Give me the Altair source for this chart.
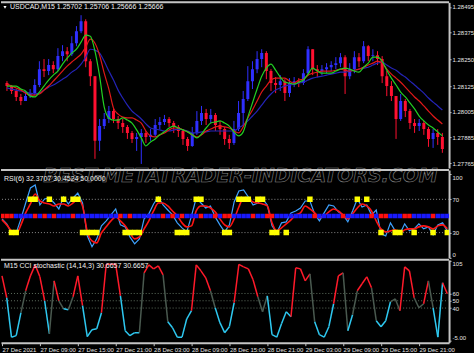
import altair as alt
import pandas as pd

# ---------------- data ----------------
close = [1.28125, 1.28102, 1.28074, 1.28055, 1.28078, 1.28092, 1.28130, 1.28204, 1.28195, 1.28223,
         1.28204, 1.28265, 1.28288, 1.28274, 1.28325, 1.28381, 1.28428, 1.28241, 1.28171, 1.27869,
         1.27938, 1.27971, 1.28008, 1.27971, 1.27952, 1.27934, 1.27906, 1.27878, 1.27887, 1.27906,
         1.27887, 1.27897, 1.27943, 1.27957, 1.27971, 1.27952, 1.27934, 1.27915, 1.27878, 1.27845,
         1.27906, 1.27962, 1.27999, 1.27971, 1.27990, 1.27943, 1.27924, 1.27878, 1.27859, 1.27924,
         1.27999, 1.28064, 1.28148, 1.28204, 1.28251, 1.28279, 1.28195, 1.28139, 1.28130, 1.28148,
         1.28092, 1.28139, 1.28148, 1.28139, 1.28185, 1.28297, 1.28204, 1.28195, 1.28204, 1.28213,
         1.28223, 1.28232, 1.28260, 1.28171, 1.28204, 1.28260, 1.28241, 1.28311, 1.28265, 1.28269,
         1.28251, 1.28171, 1.28125, 1.28078, 1.27971, 1.28055, 1.28008, 1.27952, 1.27938, 1.27952,
         1.27924, 1.27878, 1.27906, 1.27887, 1.27831]
high = [1.28148, 1.28130, 1.28111, 1.28088, 1.28102, 1.28111, 1.28157, 1.28241, 1.28251, 1.28251,
        1.28241, 1.28302, 1.28316, 1.28307, 1.28358, 1.28405, 1.28456, 1.28437, 1.28251, 1.28171,
        1.27971, 1.27999, 1.28032, 1.28022, 1.27985, 1.27971, 1.27943, 1.27915, 1.27906, 1.27924,
        1.27915, 1.27924, 1.27971, 1.27980, 1.27990, 1.27980, 1.27962, 1.27943, 1.27924, 1.27887,
        1.27934, 1.28008, 1.28032, 1.28018, 1.28018, 1.27999, 1.27962, 1.27934, 1.27897, 1.27962,
        1.28055, 1.28102, 1.28218, 1.28241, 1.28288, 1.28297, 1.28288, 1.28204, 1.28167, 1.28176,
        1.28157, 1.28162, 1.28167, 1.28162, 1.28204, 1.28311, 1.28297, 1.28223, 1.28223, 1.28232,
        1.28241, 1.28260, 1.28279, 1.28269, 1.28232, 1.28288, 1.28279, 1.28335, 1.28316, 1.28297,
        1.28288, 1.28265, 1.28195, 1.28148, 1.28078, 1.28088, 1.28064, 1.28018, 1.27971, 1.27971,
        1.27962, 1.27934, 1.27924, 1.27924, 1.27906]
low = [1.28102, 1.28088, 1.28055, 1.28036, 1.28055, 1.28069, 1.28083, 1.28120, 1.28167, 1.28176,
       1.28185, 1.28195, 1.28241, 1.28241, 1.28265, 1.28311, 1.28372, 1.28213, 1.28125, 1.27785,
       1.27822, 1.27924, 1.27952, 1.27952, 1.27924, 1.27906, 1.27878, 1.27859, 1.27822, 1.27761,
       1.27859, 1.27869, 1.27887, 1.27924, 1.27943, 1.27934, 1.27906, 1.27887, 1.27850, 1.27822,
       1.27841, 1.27897, 1.27943, 1.27943, 1.27952, 1.27915, 1.27897, 1.27850, 1.27831, 1.27850,
       1.27915, 1.27938, 1.28055, 1.28111, 1.28185, 1.28213, 1.28157, 1.28102, 1.28092, 1.28102,
       1.28055, 1.28074, 1.28120, 1.28120, 1.28130, 1.28176, 1.28176, 1.28167, 1.28176, 1.28185,
       1.28195, 1.28204, 1.28213, 1.28088, 1.28157, 1.28185, 1.28213, 1.28232, 1.28241, 1.28241,
       1.28223, 1.28139, 1.28078, 1.28055, 1.27878, 1.27962, 1.27980, 1.27924, 1.27906, 1.27915,
       1.27897, 1.27841, 1.27836, 1.27850, 1.27813]
open_first = 1.28139

ma_fast = [1.28125, 1.28125, 1.28125, 1.28111, 1.28102, 1.28078, 1.28074, 1.28097, 1.28125, 1.28153,
           1.28176, 1.28195, 1.28227, 1.28255, 1.28279, 1.28297, 1.28330, 1.28363, 1.28358, 1.28288,
           1.28171, 1.28027, 1.27976, 1.27966, 1.27966, 1.27976, 1.27966, 1.27952, 1.27920, 1.27883,
           1.27845, 1.27864, 1.27878, 1.27897, 1.27911, 1.27929, 1.27938, 1.27929, 1.27920, 1.27911,
           1.27897, 1.27883, 1.27901, 1.27929, 1.27952, 1.27957, 1.27962, 1.27952, 1.27938, 1.27911,
           1.27892, 1.27911, 1.27980, 1.28046, 1.28111, 1.28171, 1.28209, 1.28227, 1.28199, 1.28167,
           1.28143, 1.28139, 1.28134, 1.28143, 1.28153, 1.28181, 1.28209, 1.28195, 1.28185, 1.28185,
           1.28185, 1.28195, 1.28204, 1.28209, 1.28204, 1.28195, 1.28190, 1.28213, 1.28232, 1.28260,
           1.28260, 1.28241, 1.28199, 1.28162, 1.28130, 1.28097, 1.28074, 1.28046, 1.28018, 1.27985,
           1.27962, 1.27943, 1.27929, 1.27911, 1.27892]
ma_mid = [1.28134, 1.28125, 1.28116, 1.28106, 1.28092, 1.28083, 1.28083, 1.28088, 1.28106, 1.28125,
          1.28148, 1.28171, 1.28195, 1.28218, 1.28237, 1.28255, 1.28274, 1.28307, 1.28344, 1.28325,
          1.28269, 1.28185, 1.28111, 1.28022, 1.27994, 1.27980, 1.27976, 1.27976, 1.27966, 1.27952,
          1.27915, 1.27892, 1.27887, 1.27897, 1.27906, 1.27920, 1.27929, 1.27929, 1.27920, 1.27911,
          1.27897, 1.27887, 1.27897, 1.27915, 1.27924, 1.27934, 1.27938, 1.27934, 1.27929, 1.27915,
          1.27906, 1.27934, 1.27976, 1.28013, 1.28055, 1.28097, 1.28125, 1.28153, 1.28162, 1.28162,
          1.28162, 1.28148, 1.28139, 1.28153, 1.28157, 1.28176, 1.28185, 1.28190, 1.28195, 1.28195,
          1.28195, 1.28199, 1.28204, 1.28199, 1.28195, 1.28199, 1.28204, 1.28213, 1.28223, 1.28232,
          1.28241, 1.28232, 1.28204, 1.28181, 1.28162, 1.28143, 1.28120, 1.28097, 1.28074, 1.28055,
          1.28032, 1.28008, 1.27985, 1.27966, 1.27948]
ma_slow = [1.28116, 1.28111, 1.28106, 1.28102, 1.28097, 1.28092, 1.28088, 1.28092, 1.28106, 1.28120,
           1.28130, 1.28143, 1.28157, 1.28171, 1.28190, 1.28204, 1.28227, 1.28260, 1.28297, 1.28293,
           1.28279, 1.28241, 1.28195, 1.28153, 1.28106, 1.28069, 1.28036, 1.28008, 1.27990, 1.27971,
           1.27948, 1.27929, 1.27924, 1.27920, 1.27915, 1.27915, 1.27920, 1.27924, 1.27920, 1.27915,
           1.27906, 1.27906, 1.27911, 1.27911, 1.27915, 1.27915, 1.27915, 1.27915, 1.27915, 1.27915,
           1.27929, 1.27943, 1.27962, 1.27985, 1.28008, 1.28036, 1.28064, 1.28088, 1.28106, 1.28116,
           1.28125, 1.28130, 1.28134, 1.28139, 1.28143, 1.28153, 1.28162, 1.28167, 1.28171, 1.28176,
           1.28181, 1.28185, 1.28190, 1.28190, 1.28195, 1.28199, 1.28204, 1.28209, 1.28213, 1.28223,
           1.28232, 1.28237, 1.28223, 1.28209, 1.28199, 1.28181, 1.28167, 1.28148, 1.28130, 1.28111,
           1.28092, 1.28069, 1.28050, 1.28032, 1.28013]

rsi_fast = [46.5, 40.5, 29.7, 29.7, 46.5, 65.6, 83.6, 87.2, 63.2, 70.4,
            71.6, 65.6, 58.4, 72.8, 64.4, 71.6, 77.6, 65.6, 26.1, 13.0,
            22.5, 38.1, 44.1, 51.3, 58.4, 39.3, 36.9, 24.9, 16.5, 22.5,
            46.5, 52.5, 64.4, 72.8, 63.2, 57.2, 51.3, 41.7, 35.7, 30.9,
            50.1, 71.6, 65.6, 59.6, 62.0, 48.9, 39.3, 30.9, 39.3, 66.8,
            80.0, 81.2, 72.8, 63.2, 65.6, 70.4, 63.2, 38.1, 29.7, 41.7,
            42.9, 53.7, 56.0, 59.6, 68.0, 68.0, 52.5, 44.1, 53.7, 63.2,
            62.0, 54.9, 51.3, 42.9, 56.0, 70.4, 60.8, 63.2, 51.3, 57.2,
            28.5, 26.1, 41.7, 32.1, 28.5, 40.5, 32.1, 34.5, 40.5, 34.5,
            36.9, 27.3, 39.3, 41.7, 32.1]
rsi_slow = [45.3, 39.3, 32.1, 28.5, 39.3, 53.7, 64.4, 76.4, 68.0, 65.6,
            64.4, 62.0, 64.4, 64.4, 62.0, 65.6, 70.4, 62.0, 30.9, 20.1,
            17.7, 29.7, 36.9, 44.1, 48.9, 44.1, 38.1, 29.7, 22.5, 24.9,
            34.5, 44.1, 56.0, 65.6, 65.6, 62.0, 56.0, 50.1, 41.7, 36.9,
            38.1, 56.0, 62.0, 62.0, 59.6, 54.9, 46.5, 39.3, 36.9, 46.5,
            60.8, 71.6, 70.4, 66.8, 65.6, 64.4, 62.0, 41.7, 32.1, 35.7,
            40.5, 45.3, 51.3, 53.7, 62.0, 58.4, 53.7, 47.7, 50.1, 54.9,
            58.4, 56.0, 51.3, 46.5, 52.5, 59.6, 64.4, 62.0, 56.0, 44.1,
            34.5, 30.9, 32.1, 33.3, 29.7, 33.3, 34.5, 34.5, 36.9, 38.1,
            36.9, 34.5, 38.1, 39.3, 34.5]
# colour of the dotted signal band drawn at the RSI 50 level (R = red, B = blue)
rsi_band = ("RRRBBBBRBR" "BRBBBRBBBB" "BBBBBRBRBB" "BBBBRBRBRB" "BBRBBRBRRB"
            "BBBRBBRRBB" "BBBBBBRBBB" "BBRBBBBBRB" "RRBBBRRBBB" "BRBBB")
rsi_mid_level = 50
rsi_over_bought_candles = [6, 7, 10, 13, 15, 16, 33, 41, 42, 50, 51, 52, 54, 55, 65, 75, 77]
rsi_over_sold_candles = [2, 3, 17, 18, 19, 20, 26, 27, 28, 29, 37, 38, 39, 47, 48, 57, 58, 60,
                         80, 83, 84, 87, 91, 94]
cci_stoch = [84.2, 54.1, 0.0, 2.1, 33.6, 63.7, 84.2, 99.3, 82.9, 50.0,
             4.8, 77.4, 50.0, 39.0, 37.7, 55.5, 84.2, 43.2, 0.7, 10.3,
             11.6, 33.6, 100.0, 100.0, 100.0, 56.8, 8.9, 2.1, 6.2, 6.2,
             88.4, 99.3, 93.8, 97.9, 85.6, 21.2, 13.0, 0.0, 0.0, 25.3,
             36.3, 99.3, 91.1, 81.5, 63.7, 40.4, 19.9, 6.2, 14.4, 47.3,
             100.0, 96.6, 93.8, 78.8, 55.5, 34.9, 56.8, 3.4, 0.0, 18.5,
             34.9, 28.1, 95.2, 93.8, 77.4, 87.0, 21.2, 3.4, 0.0, 14.4,
             45.9, 84.2, 88.4, 8.9, 30.8, 63.7, 73.3, 82.9, 67.8, 22.6,
             14.4, 22.6, 48.6, 52.7, 36.3, 96.6, 91.1, 54.1, 40.4, 45.9,
             77.4, 40.4, 0.0, 74.7, 59.6]

price_ticks = [1.27765, 1.27885, 1.28005, 1.28125, 1.28250, 1.28375, 1.28495]
rsi_ticks = [100, 70, 30, 0]
rsi_levels = [70, 30]
cci_ticks = [105, 60, 50, 40, -5]
cci_levels = [60, 50, 40]
time_tick_bars = [0, 24, 48, 72, 96, 120, 144, 168, 192, 216, 240, 264]
time_labels = ["27 Dec 2021", "27 Dec 09:00", "27 Dec 15:00", "27 Dec 21:00",
               "28 Dec 03:00", "28 Dec 09:00", "28 Dec 15:00", "28 Dec 21:00",
               "29 Dec 03:00", "29 Dec 09:00", "29 Dec 15:00", "29 Dec 21:00"]
title_main = "USDCAD,M15  1.25702 1.25706 1.25666 1.25666"
title_rsi = "RSI(6) 32.3707 30.4524 50.0000"
title_cci = "M15 CCI stochastic (14,14,3) 30.6657 30.6657"
watermark = "BEST-METATRADER-INDICATORS.COM"

# ---------------- tables ----------------
BARS_PER_CANDLE = 3  # one drawn candle per 3 M15 bars
n = len(close)
bar = [BARS_PER_CANDLE * i for i in range(n)]
opens = [open_first] + close[:-1]
df = pd.DataFrame({
    "bar": bar, "o": opens, "h": high, "l": low, "c": close,
    "ma_fast": ma_fast, "ma_mid": ma_mid, "ma_slow": ma_slow,
    "rsi_fast": rsi_fast, "rsi_slow": rsi_slow,
})
df["dir"] = ["up" if c >= o else "down" for o, c in zip(opens, close)]

band_df = pd.DataFrame({"bar": bar, "col": list(rsi_band), "lvl": [rsi_mid_level] * n})
yellow_df = pd.DataFrame(
    [{"bar": bar[i], "lvl": 70} for i in rsi_over_bought_candles]
    + [{"bar": bar[i], "lvl": 30} for i in rsi_over_sold_candles])

seg = []
for i in range(n - 1):
    a, b = cci_stoch[i], cci_stoch[i + 1]
    m = (a + b) / 2
    zone = "hi" if m > 60 else ("lo" if m < 40 else "mid")
    seg.append({"bar": bar[i], "bar2": bar[i + 1], "v": a, "v2": b, "zone": zone})
seg_df = pd.DataFrame(seg)
one = pd.DataFrame({"k": [0]})

# ---------------- styling ----------------
FONT = "Liberation Sans"
SEP = "#c4c4c4"
LBL = "#e4e4e4"
W = 449

xscale = alt.Scale(domain=[-0.63, 283.1], nice=False, zero=False)
x_hidden = alt.X("bar:Q", scale=xscale, axis=None)

lbl_expr = " : ".join(f"datum.value == {b} ? '{l}'" for b, l in zip(time_tick_bars, time_labels)) + " : ''"
x_axis = alt.Axis(values=time_tick_bars, labelExpr=lbl_expr, labelAlign="left", labelFont=FONT,
                  labelFontSize=6, labelColor=LBL, labelPadding=1, labelFlush=False,
                  labelOverlap=False, tickSize=3, tickColor=SEP, domainColor=SEP, domainWidth=2,
                  grid=False, title=None)
x_shown = alt.X("bar:Q", scale=xscale, axis=x_axis)

edge_baseline = {"condition": [{"test": "datum.value >= 100", "value": "top"},
                               {"test": "datum.value <= 0", "value": "bottom"}],
                 "value": "middle"}


def right_axis(values, expr, edges=False):
    kw = dict(orient="right", values=values, labelExpr=expr, title=None, grid=False,
              labelFont=FONT, labelFontSize=6, labelColor=LBL, labelPadding=1,
              tickSize=2, tickColor=SEP, domainColor=SEP, domainWidth=2, labelFlush=False)
    if edges:
        kw["labelBaseline"] = edge_baseline
    return alt.Axis(**kw)


price_scale = alt.Scale(domain=[1.27742, 1.28516], nice=False, zero=False)
price_axis = right_axis(price_ticks, "format(datum.value, '.5f')")
rsi_scale = alt.Scale(domain=[-0.3, 105.2], nice=False, zero=False)
rsi_axis = right_axis(rsi_ticks, "format(datum.value, 'd')", edges=True)
cci_scale = alt.Scale(domain=[-7.5, 106.2], nice=False, zero=False)
cci_axis = right_axis(cci_ticks, "datum.value < 0 ? '-5.00' : format(datum.value, 'd')", edges=True)

candle_color = alt.Color("dir:N", scale=alt.Scale(domain=["up", "down"], range=["#2f2fff", "#ff1030"]),
                         legend=None)


def py(field):
    return alt.Y(f"{field}:Q", scale=price_scale, axis=price_axis)


def sep_rule():
    return alt.Chart(one).mark_rule(color=SEP, strokeWidth=2).encode(y=alt.value(0))


def label(text, y, x=3):
    return alt.Chart(one).mark_text(text=text, align="left", baseline="middle", font=FONT,
                                    fontSize=7, color="#f2f2f2").encode(x=alt.value(x), y=alt.value(y))


base = alt.Chart(df)
wicks = base.mark_rule(strokeWidth=1, clip=True).encode(x=x_hidden, y=py("l"), y2="h:Q", color=candle_color)
bodies = base.mark_bar(size=3, clip=True).encode(x=x_hidden, y=py("o"), y2="c:Q", color=candle_color)
ma_s = base.mark_line(color="#2424b8", strokeWidth=1.2, interpolate="monotone", clip=True).encode(x=x_hidden, y=py("ma_slow"))
ma_m = base.mark_line(color="#e01818", strokeWidth=1.2, interpolate="monotone", clip=True).encode(x=x_hidden, y=py("ma_mid"))
ma_f = base.mark_line(color="#22d022", strokeWidth=1.2, interpolate="monotone", clip=True).encode(x=x_hidden, y=py("ma_fast"))
tri = alt.Chart(one).mark_point(shape="triangle-down", filled=True, color="white", size=10, opacity=1).encode(
    x=alt.value(4), y=alt.value(5))
main = alt.layer(sep_rule(), wicks, bodies, ma_s, ma_m, ma_f, label(title_main, 5, 9), tri).properties(
    width=W, height=166)

# RSI panel
wm = alt.Chart(one).mark_text(text=watermark, font="DejaVu Sans", fontSize=19, fontStyle="italic",
                              fontWeight="bold", color="#000000", stroke="#858585", strokeWidth=0.6,
                              align="center", baseline="middle").encode(x=alt.value(240), y=alt.value(6))
rsi_lv = alt.Chart(pd.DataFrame({"lvl": rsi_levels})).mark_rule(color="#8c8c8c", strokeDash=[1, 2]).encode(
    y=alt.Y("lvl:Q", scale=rsi_scale, axis=rsi_axis))
rsi_b = base.mark_line(color="#3ea2ff", strokeWidth=1.2, clip=True).encode(
    x=x_hidden, y=alt.Y("rsi_fast:Q", scale=rsi_scale, axis=rsi_axis))
rsi_r = base.mark_line(color="#ff1414", strokeWidth=1.6, interpolate="monotone", clip=True).encode(
    x=x_hidden, y=alt.Y("rsi_slow:Q", scale=rsi_scale, axis=rsi_axis))
band = alt.Chart(band_df).mark_square(size=20, opacity=1, clip=True).encode(
    x=x_hidden, y=alt.Y("lvl:Q", scale=rsi_scale, axis=rsi_axis),
    color=alt.Color("col:N", scale=alt.Scale(domain=["R", "B"], range=["#ff1010", "#1a1aff"]), legend=None))
yel = alt.Chart(yellow_df).mark_square(size=30, opacity=1, color="#ffff00", clip=True).encode(
    x=x_hidden, y=alt.Y("lvl:Q", scale=rsi_scale, axis=rsi_axis))
rsi = alt.layer(wm, sep_rule(), rsi_lv, rsi_b, rsi_r, band, yel, label(title_rsi, 9)).properties(
    width=W, height=88)

# CCI stochastic panel
cci_lv = alt.Chart(pd.DataFrame({"lvl": cci_levels})).mark_rule(color="#5e6e5e", strokeDash=[1, 2]).encode(
    y=alt.Y("lvl:Q", scale=cci_scale, axis=cci_axis))
cci_line = alt.Chart(seg_df).mark_rule(strokeWidth=1.5, clip=True).encode(
    x=x_shown, x2="bar2:Q", y=alt.Y("v:Q", scale=cci_scale, axis=cci_axis), y2="v2:Q",
    color=alt.Color("zone:N", scale=alt.Scale(domain=["hi", "mid", "lo"],
                                              range=["#ff1a2a", "#4a5a50", "#2ec8f0"]), legend=None))
cci = alt.layer(sep_rule(), cci_lv, cci_line, label(title_cci, 6)).properties(width=W, height=83)

chart = alt.vconcat(main, rsi, cci, spacing=2, bounds="flush", background="#000000",
                    padding={"top": 1, "left": 0, "right": 0, "bottom": 0}).resolve_scale(
    color="independent").configure_view(stroke=None)

chart.save("out.html", embed_options={"renderer": "svg", "actions": False})
